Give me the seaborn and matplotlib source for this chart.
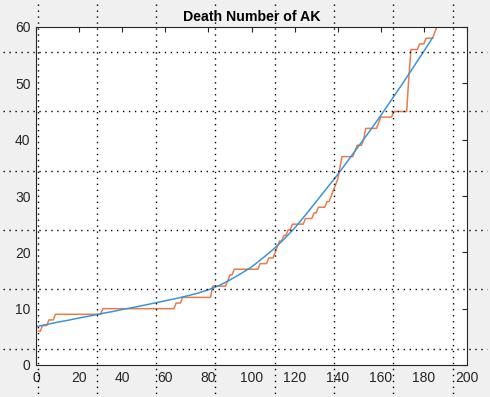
import pandas as pd
import matplotlib
matplotlib.use("Agg")  # headless
import matplotlib.pyplot as plt
from matplotlib.lines import Line2D
import seaborn as sns

# cumulative deaths, one value per day (day 1 .. 187)
DEATHS = [
    6, 6, 7, 7, 7, 8, 8, 8, 9, 9,
    9, 9, 9, 9, 9, 9, 9, 9, 9, 9,
    9, 9, 9, 9, 9, 9, 9, 9, 9, 9,
    10, 10, 10, 10, 10, 10, 10, 10, 10, 10,
    10, 10, 10, 10, 10, 10, 10, 10, 10, 10,
    10, 10, 10, 10, 10, 10, 10, 10, 10, 10,
    10, 10, 10, 10, 11, 11, 11, 12, 12, 12,
    12, 12, 12, 12, 12, 12, 12, 12, 12, 12,
    12, 14, 14, 14, 14, 14, 14, 14, 15, 16,
    16, 17, 17, 17, 17, 17, 17, 17, 17, 17,
    17, 17, 17, 18, 18, 18, 18, 19, 19, 19,
    20, 21, 22, 22, 23, 23, 24, 24, 25, 25,
    25, 25, 25, 25, 26, 26, 26, 26, 27, 27,
    28, 28, 28, 28, 29, 29, 30, 31, 32, 33,
    35, 37, 37, 37, 37, 37, 37, 38, 39, 39,
    39, 40, 42, 42, 42, 42, 42, 42, 43, 44,
    44, 44, 44, 44, 44, 45, 45, 45, 45, 45,
    45, 45, 51, 56, 56, 56, 56, 57, 57, 57,
    58, 58, 58, 58, 59, 60, 61,
]
DAYS = list(range(1, len(DEATHS) + 1))

# fitted trend
FIT_DAYS = [0, 5, 10, 15, 20, 25, 30, 35, 40, 45, 50, 55, 60, 65, 70, 75,
            80, 85, 90, 95, 100, 105, 110, 115, 120, 125, 130, 135, 140,
            145, 150, 155, 160, 165, 170, 175, 180, 184]
FIT_VALUES = [6.8, 7.2, 7.6, 7.95, 8.35, 8.7, 9.1, 9.45, 9.85, 10.2, 10.6,
              11.0, 11.4, 11.8, 12.25, 12.75, 13.35, 14.1, 15.1, 16.2, 17.4,
              18.9, 20.5, 22.3, 24.3, 26.6, 29.0, 31.4, 33.8, 36.4, 39.0,
              41.6, 44.3, 47.1, 49.9, 52.8, 55.7, 58.1]

BLUE = "#3a95d8"
ORANGE = "#ec7a4a"
INK = "#262626"

W, H = 490, 397


def overlay_dots(fig):
    """The stray dotted lattice drawn over the whole window."""
    xs = [37.5 + 59.3 * k for k in range(8)]
    ys = [52 + 59.3 * k for k in range(6)]
    style = dict(color="black", lw=1.0, ls=(0, (1, 3.3)), zorder=10,
                 transform=fig.transFigure)
    for x in xs:
        fig.add_artist(Line2D([x / W, x / W], [1 - 4 / H, 0], **style))
    for y in ys:
        fig.add_artist(Line2D([3 / W, 487 / W], [1 - y / H, 1 - y / H], **style))


def main():
    sns.set_style("white")
    plt.rcParams["font.family"] = ["Liberation Sans", "DejaVu Sans"]

    fig = plt.figure(figsize=(W / 100, H / 100), dpi=100, facecolor="#f0f0f0")
    ax = fig.add_axes([36 / W, 1 - 365 / H, (467 - 36) / W, (365 - 27) / H])
    ax.set_facecolor("white")

    deaths = pd.DataFrame({"day": DAYS, "deaths": DEATHS})
    fit = pd.DataFrame({"day": FIT_DAYS, "deaths": FIT_VALUES})
    sns.lineplot(data=deaths, x="day", y="deaths", color=ORANGE, lw=1.1, ax=ax)
    sns.lineplot(data=fit, x="day", y="deaths", color=BLUE, lw=1.1, ax=ax)

    ax.set_xlim(0, 200)
    ax.set_ylim(0, 60)
    ax.set_xticks(range(0, 201, 20))
    ax.set_yticks(range(0, 61, 10))
    ax.set_xlabel("")
    ax.set_ylabel("")
    ax.tick_params(direction="in", length=3.5, width=0.8, colors=INK,
                   labelsize=10, top=True, right=True, pad=4)
    for s in ax.spines.values():
        s.set_color(INK)
        s.set_linewidth(0.8)
    ax.set_title("Death Number of AK", fontsize=10.2, fontweight="bold",
                 color="black", pad=4)

    overlay_dots(fig)
    fig.savefig("out.png", dpi=100, facecolor=fig.get_facecolor())
    plt.close(fig)


if __name__ == "__main__":
    main()
